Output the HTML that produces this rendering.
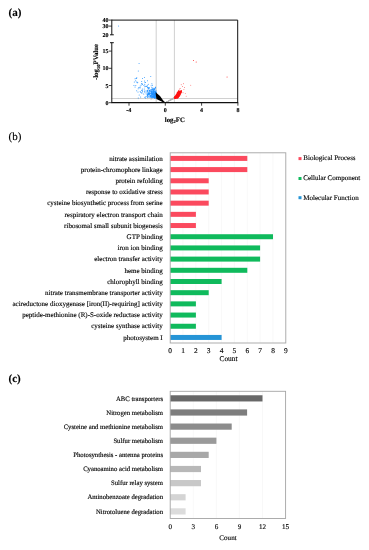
<!DOCTYPE html>
<html><head><meta charset="utf-8"><title>Figure</title>
<style>html,body{margin:0;padding:0;background:#fff}svg{display:block}text{font-family:"Liberation Serif","Times New Roman",serif;fill:#000;text-rendering:geometricPrecision;stroke:#000;stroke-width:0.13px}</style></head><body>
<svg width="369" height="550" viewBox="0 0 369 550">
<rect width="369" height="550" fill="#fff"/>
<text x="8.5" y="15.6" font-size="11" font-weight="bold">(a)</text>
<text x="8.5" y="139.6" font-size="11">(b)</text>
<text x="8.5" y="381.9" font-size="11" font-weight="bold">(c)</text>
<g id="volcano">
<g stroke="#b0b0b0" stroke-width="0.6">
<line x1="156.2" y1="20.1" x2="156.2" y2="102.7"/>
<line x1="174.4" y1="20.1" x2="174.4" y2="102.7"/>
<line x1="111.8" y1="98.5" x2="237.7" y2="98.5"/>
</g>
<circle cx="168.55" cy="101.12" r="0.42" fill="#b8b8b8" fill-opacity="0.9"/>
<circle cx="171.37" cy="99.81" r="0.42" fill="#b8b8b8" fill-opacity="0.9"/>
<circle cx="170.38" cy="100.10" r="0.42" fill="#b8b8b8" fill-opacity="0.9"/>
<circle cx="166.25" cy="102.19" r="0.42" fill="#b8b8b8" fill-opacity="0.9"/>
<circle cx="166.08" cy="102.29" r="0.42" fill="#b8b8b8" fill-opacity="0.9"/>
<circle cx="166.36" cy="102.19" r="0.42" fill="#b8b8b8" fill-opacity="0.9"/>
<circle cx="169.42" cy="100.35" r="0.42" fill="#b8b8b8" fill-opacity="0.9"/>
<circle cx="166.82" cy="101.95" r="0.42" fill="#b8b8b8" fill-opacity="0.9"/>
<circle cx="171.17" cy="99.26" r="0.42" fill="#b8b8b8" fill-opacity="0.9"/>
<circle cx="170.73" cy="99.89" r="0.42" fill="#b8b8b8" fill-opacity="0.9"/>
<circle cx="174.18" cy="98.50" r="0.42" fill="#b8b8b8" fill-opacity="0.9"/>
<circle cx="173.16" cy="98.74" r="0.42" fill="#b8b8b8" fill-opacity="0.9"/>
<circle cx="167.00" cy="101.88" r="0.42" fill="#b8b8b8" fill-opacity="0.9"/>
<circle cx="168.41" cy="100.92" r="0.42" fill="#b8b8b8" fill-opacity="0.9"/>
<circle cx="167.31" cy="101.61" r="0.42" fill="#b8b8b8" fill-opacity="0.9"/>
<circle cx="171.27" cy="99.63" r="0.42" fill="#b8b8b8" fill-opacity="0.9"/>
<circle cx="170.48" cy="100.24" r="0.42" fill="#b8b8b8" fill-opacity="0.9"/>
<circle cx="166.27" cy="102.22" r="0.42" fill="#b8b8b8" fill-opacity="0.9"/>
<circle cx="171.62" cy="99.41" r="0.42" fill="#b8b8b8" fill-opacity="0.9"/>
<circle cx="168.46" cy="100.99" r="0.42" fill="#b8b8b8" fill-opacity="0.9"/>
<circle cx="169.66" cy="100.50" r="0.42" fill="#b8b8b8" fill-opacity="0.9"/>
<circle cx="172.61" cy="98.64" r="0.42" fill="#b8b8b8" fill-opacity="0.9"/>
<circle cx="167.86" cy="101.32" r="0.42" fill="#b8b8b8" fill-opacity="0.9"/>
<circle cx="170.28" cy="99.82" r="0.42" fill="#b8b8b8" fill-opacity="0.9"/>
<circle cx="172.05" cy="99.30" r="0.42" fill="#b8b8b8" fill-opacity="0.9"/>
<circle cx="174.21" cy="98.41" r="0.42" fill="#b8b8b8" fill-opacity="0.9"/>
<circle cx="169.36" cy="100.42" r="0.42" fill="#b8b8b8" fill-opacity="0.9"/>
<circle cx="167.07" cy="101.77" r="0.42" fill="#b8b8b8" fill-opacity="0.9"/>
<circle cx="166.09" cy="102.26" r="0.42" fill="#b8b8b8" fill-opacity="0.9"/>
<circle cx="172.35" cy="98.90" r="0.42" fill="#b8b8b8" fill-opacity="0.9"/>
<circle cx="173.31" cy="98.64" r="0.42" fill="#b8b8b8" fill-opacity="0.9"/>
<circle cx="171.75" cy="99.20" r="0.42" fill="#b8b8b8" fill-opacity="0.9"/>
<circle cx="170.76" cy="99.84" r="0.42" fill="#b8b8b8" fill-opacity="0.9"/>
<circle cx="173.00" cy="98.19" r="0.42" fill="#b8b8b8" fill-opacity="0.9"/>
<circle cx="169.84" cy="100.20" r="0.42" fill="#b8b8b8" fill-opacity="0.9"/>
<circle cx="166.28" cy="102.16" r="0.42" fill="#b8b8b8" fill-opacity="0.9"/>
<circle cx="171.34" cy="99.12" r="0.42" fill="#b8b8b8" fill-opacity="0.9"/>
<circle cx="172.84" cy="98.91" r="0.42" fill="#b8b8b8" fill-opacity="0.9"/>
<circle cx="169.08" cy="100.61" r="0.42" fill="#b8b8b8" fill-opacity="0.9"/>
<circle cx="165.95" cy="102.36" r="0.42" fill="#b8b8b8" fill-opacity="0.9"/>
<circle cx="167.20" cy="101.78" r="0.42" fill="#b8b8b8" fill-opacity="0.9"/>
<circle cx="166.26" cy="102.16" r="0.42" fill="#b8b8b8" fill-opacity="0.9"/>
<circle cx="166.87" cy="101.92" r="0.42" fill="#b8b8b8" fill-opacity="0.9"/>
<circle cx="169.13" cy="100.49" r="0.42" fill="#b8b8b8" fill-opacity="0.9"/>
<circle cx="166.45" cy="102.10" r="0.42" fill="#b8b8b8" fill-opacity="0.9"/>
<circle cx="170.49" cy="99.70" r="0.42" fill="#b8b8b8" fill-opacity="0.9"/>
<circle cx="172.82" cy="98.37" r="0.42" fill="#b8b8b8" fill-opacity="0.9"/>
<circle cx="168.16" cy="101.22" r="0.42" fill="#b8b8b8" fill-opacity="0.9"/>
<circle cx="168.85" cy="100.65" r="0.42" fill="#b8b8b8" fill-opacity="0.9"/>
<circle cx="174.02" cy="98.46" r="0.42" fill="#b8b8b8" fill-opacity="0.9"/>
<circle cx="167.27" cy="101.72" r="0.42" fill="#b8b8b8" fill-opacity="0.9"/>
<circle cx="167.77" cy="101.40" r="0.42" fill="#b8b8b8" fill-opacity="0.9"/>
<circle cx="170.84" cy="99.93" r="0.42" fill="#b8b8b8" fill-opacity="0.9"/>
<circle cx="165.79" cy="102.45" r="0.42" fill="#b8b8b8" fill-opacity="0.9"/>
<circle cx="168.94" cy="100.74" r="0.42" fill="#b8b8b8" fill-opacity="0.9"/>
<circle cx="173.98" cy="97.89" r="0.42" fill="#b8b8b8" fill-opacity="0.9"/>
<circle cx="170.20" cy="100.03" r="0.42" fill="#b8b8b8" fill-opacity="0.9"/>
<circle cx="171.59" cy="99.72" r="0.42" fill="#b8b8b8" fill-opacity="0.9"/>
<circle cx="173.51" cy="98.06" r="0.42" fill="#b8b8b8" fill-opacity="0.9"/>
<circle cx="173.30" cy="98.16" r="0.42" fill="#b8b8b8" fill-opacity="0.9"/>
<circle cx="169.14" cy="100.71" r="0.42" fill="#b8b8b8" fill-opacity="0.9"/>
<circle cx="166.65" cy="101.96" r="0.42" fill="#b8b8b8" fill-opacity="0.9"/>
<circle cx="166.29" cy="102.23" r="0.42" fill="#b8b8b8" fill-opacity="0.9"/>
<circle cx="167.55" cy="101.60" r="0.42" fill="#b8b8b8" fill-opacity="0.9"/>
<circle cx="168.69" cy="101.10" r="0.42" fill="#b8b8b8" fill-opacity="0.9"/>
<circle cx="165.76" cy="102.48" r="0.42" fill="#b8b8b8" fill-opacity="0.9"/>
<circle cx="166.63" cy="102.02" r="0.42" fill="#b8b8b8" fill-opacity="0.9"/>
<circle cx="165.97" cy="102.31" r="0.42" fill="#b8b8b8" fill-opacity="0.9"/>
<circle cx="171.05" cy="99.91" r="0.42" fill="#b8b8b8" fill-opacity="0.9"/>
<circle cx="167.93" cy="101.36" r="0.42" fill="#b8b8b8" fill-opacity="0.9"/>
<circle cx="168.90" cy="100.97" r="0.42" fill="#b8b8b8" fill-opacity="0.9"/>
<circle cx="173.08" cy="98.09" r="0.42" fill="#b8b8b8" fill-opacity="0.9"/>
<circle cx="169.77" cy="100.34" r="0.42" fill="#b8b8b8" fill-opacity="0.9"/>
<circle cx="166.49" cy="102.13" r="0.42" fill="#b8b8b8" fill-opacity="0.9"/>
<circle cx="168.71" cy="100.99" r="0.42" fill="#b8b8b8" fill-opacity="0.9"/>
<circle cx="172.90" cy="98.99" r="0.42" fill="#b8b8b8" fill-opacity="0.9"/>
<circle cx="165.95" cy="102.32" r="0.42" fill="#b8b8b8" fill-opacity="0.9"/>
<circle cx="170.31" cy="100.27" r="0.42" fill="#b8b8b8" fill-opacity="0.9"/>
<circle cx="170.44" cy="100.28" r="0.42" fill="#b8b8b8" fill-opacity="0.9"/>
<circle cx="170.31" cy="99.74" r="0.42" fill="#b8b8b8" fill-opacity="0.9"/>
<circle cx="173.20" cy="98.32" r="0.42" fill="#b8b8b8" fill-opacity="0.9"/>
<circle cx="168.01" cy="101.31" r="0.42" fill="#b8b8b8" fill-opacity="0.9"/>
<circle cx="167.19" cy="101.63" r="0.42" fill="#b8b8b8" fill-opacity="0.9"/>
<circle cx="170.35" cy="99.85" r="0.42" fill="#b8b8b8" fill-opacity="0.9"/>
<circle cx="168.60" cy="101.07" r="0.42" fill="#b8b8b8" fill-opacity="0.9"/>
<circle cx="172.75" cy="98.29" r="0.42" fill="#b8b8b8" fill-opacity="0.9"/>
<circle cx="173.11" cy="98.26" r="0.42" fill="#b8b8b8" fill-opacity="0.9"/>
<circle cx="172.81" cy="98.49" r="0.42" fill="#b8b8b8" fill-opacity="0.9"/>
<circle cx="167.71" cy="101.42" r="0.42" fill="#b8b8b8" fill-opacity="0.9"/>
<circle cx="168.82" cy="101.04" r="0.42" fill="#b8b8b8" fill-opacity="0.9"/>
<circle cx="165.99" cy="102.35" r="0.42" fill="#b8b8b8" fill-opacity="0.9"/>
<circle cx="167.99" cy="101.21" r="0.42" fill="#b8b8b8" fill-opacity="0.9"/>
<circle cx="174.00" cy="98.14" r="0.42" fill="#b8b8b8" fill-opacity="0.9"/>
<circle cx="173.84" cy="97.65" r="0.42" fill="#b8b8b8" fill-opacity="0.9"/>
<circle cx="173.99" cy="98.24" r="0.42" fill="#b8b8b8" fill-opacity="0.9"/>
<circle cx="167.66" cy="101.53" r="0.42" fill="#b8b8b8" fill-opacity="0.9"/>
<circle cx="167.45" cy="101.64" r="0.42" fill="#b8b8b8" fill-opacity="0.9"/>
<circle cx="171.14" cy="99.31" r="0.42" fill="#b8b8b8" fill-opacity="0.9"/>
<circle cx="173.00" cy="98.64" r="0.42" fill="#b8b8b8" fill-opacity="0.9"/>
<circle cx="171.39" cy="99.24" r="0.42" fill="#b8b8b8" fill-opacity="0.9"/>
<circle cx="166.49" cy="102.05" r="0.42" fill="#b8b8b8" fill-opacity="0.9"/>
<circle cx="173.60" cy="98.00" r="0.42" fill="#b8b8b8" fill-opacity="0.9"/>
<circle cx="172.22" cy="99.05" r="0.42" fill="#b8b8b8" fill-opacity="0.9"/>
<circle cx="167.29" cy="101.57" r="0.42" fill="#b8b8b8" fill-opacity="0.9"/>
<circle cx="168.62" cy="100.81" r="0.42" fill="#b8b8b8" fill-opacity="0.9"/>
<circle cx="174.14" cy="98.13" r="0.42" fill="#b8b8b8" fill-opacity="0.9"/>
<circle cx="169.22" cy="100.40" r="0.42" fill="#b8b8b8" fill-opacity="0.9"/>
<circle cx="172.01" cy="99.42" r="0.42" fill="#b8b8b8" fill-opacity="0.9"/>
<circle cx="166.85" cy="101.95" r="0.42" fill="#b8b8b8" fill-opacity="0.9"/>
<circle cx="173.56" cy="98.00" r="0.42" fill="#b8b8b8" fill-opacity="0.9"/>
<circle cx="167.01" cy="101.72" r="0.42" fill="#b8b8b8" fill-opacity="0.9"/>
<circle cx="174.21" cy="97.80" r="0.42" fill="#b8b8b8" fill-opacity="0.9"/>
<circle cx="168.78" cy="100.84" r="0.42" fill="#b8b8b8" fill-opacity="0.9"/>
<circle cx="166.88" cy="101.96" r="0.42" fill="#b8b8b8" fill-opacity="0.9"/>
<circle cx="174.13" cy="97.85" r="0.42" fill="#b8b8b8" fill-opacity="0.9"/>
<circle cx="170.30" cy="99.78" r="0.42" fill="#b8b8b8" fill-opacity="0.9"/>
<circle cx="169.50" cy="100.28" r="0.42" fill="#b8b8b8" fill-opacity="0.9"/>
<circle cx="172.88" cy="98.96" r="0.42" fill="#b8b8b8" fill-opacity="0.9"/>
<circle cx="167.93" cy="101.38" r="0.42" fill="#b8b8b8" fill-opacity="0.9"/>
<circle cx="167.83" cy="101.33" r="0.42" fill="#b8b8b8" fill-opacity="0.9"/>
<circle cx="167.99" cy="101.30" r="0.42" fill="#b8b8b8" fill-opacity="0.9"/>
<circle cx="166.88" cy="101.78" r="0.42" fill="#b8b8b8" fill-opacity="0.9"/>
<circle cx="168.81" cy="100.86" r="0.42" fill="#b8b8b8" fill-opacity="0.9"/>
<circle cx="170.79" cy="99.51" r="0.42" fill="#b8b8b8" fill-opacity="0.9"/>
<circle cx="169.38" cy="100.32" r="0.42" fill="#b8b8b8" fill-opacity="0.9"/>
<circle cx="170.08" cy="100.15" r="0.42" fill="#b8b8b8" fill-opacity="0.9"/>
<circle cx="170.27" cy="100.37" r="0.42" fill="#b8b8b8" fill-opacity="0.9"/>
<circle cx="169.55" cy="100.62" r="0.42" fill="#b8b8b8" fill-opacity="0.9"/>
<circle cx="165.79" cy="102.42" r="0.42" fill="#b8b8b8" fill-opacity="0.9"/>
<circle cx="167.24" cy="101.68" r="0.42" fill="#b8b8b8" fill-opacity="0.9"/>
<circle cx="172.01" cy="99.10" r="0.42" fill="#b8b8b8" fill-opacity="0.9"/>
<circle cx="168.57" cy="100.96" r="0.42" fill="#b8b8b8" fill-opacity="0.9"/>
<circle cx="170.55" cy="99.73" r="0.42" fill="#b8b8b8" fill-opacity="0.9"/>
<circle cx="166.67" cy="101.96" r="0.42" fill="#b8b8b8" fill-opacity="0.9"/>
<circle cx="167.90" cy="101.40" r="0.42" fill="#b8b8b8" fill-opacity="0.9"/>
<circle cx="172.42" cy="98.92" r="0.42" fill="#b8b8b8" fill-opacity="0.9"/>
<circle cx="170.60" cy="99.72" r="0.42" fill="#b8b8b8" fill-opacity="0.9"/>
<circle cx="173.63" cy="98.35" r="0.42" fill="#b8b8b8" fill-opacity="0.9"/>
<circle cx="171.04" cy="99.65" r="0.42" fill="#b8b8b8" fill-opacity="0.9"/>
<circle cx="170.17" cy="100.00" r="0.42" fill="#b8b8b8" fill-opacity="0.9"/>
<circle cx="169.66" cy="100.37" r="0.42" fill="#b8b8b8" fill-opacity="0.9"/>
<circle cx="169.88" cy="100.02" r="0.42" fill="#b8b8b8" fill-opacity="0.9"/>
<circle cx="171.79" cy="98.95" r="0.42" fill="#b8b8b8" fill-opacity="0.9"/>
<circle cx="173.88" cy="98.41" r="0.42" fill="#b8b8b8" fill-opacity="0.9"/>
<circle cx="170.58" cy="99.61" r="0.42" fill="#b8b8b8" fill-opacity="0.9"/>
<circle cx="173.00" cy="98.97" r="0.42" fill="#b8b8b8" fill-opacity="0.9"/>
<circle cx="166.80" cy="101.91" r="0.42" fill="#b8b8b8" fill-opacity="0.9"/>
<circle cx="166.38" cy="102.16" r="0.42" fill="#b8b8b8" fill-opacity="0.9"/>
<circle cx="166.38" cy="102.10" r="0.42" fill="#b8b8b8" fill-opacity="0.9"/>
<circle cx="172.52" cy="98.51" r="0.42" fill="#b8b8b8" fill-opacity="0.9"/>
<circle cx="167.09" cy="101.70" r="0.42" fill="#b8b8b8" fill-opacity="0.9"/>
<circle cx="171.45" cy="99.72" r="0.42" fill="#b8b8b8" fill-opacity="0.9"/>
<circle cx="173.37" cy="97.95" r="0.42" fill="#b8b8b8" fill-opacity="0.9"/>
<circle cx="167.65" cy="101.32" r="0.42" fill="#b8b8b8" fill-opacity="0.9"/>
<circle cx="169.19" cy="100.64" r="0.42" fill="#b8b8b8" fill-opacity="0.9"/>
<circle cx="174.29" cy="97.56" r="0.42" fill="#b8b8b8" fill-opacity="0.9"/>
<circle cx="167.15" cy="101.74" r="0.42" fill="#b8b8b8" fill-opacity="0.9"/>
<circle cx="170.20" cy="100.20" r="0.42" fill="#b8b8b8" fill-opacity="0.9"/>
<circle cx="167.44" cy="101.61" r="0.42" fill="#b8b8b8" fill-opacity="0.9"/>
<circle cx="171.98" cy="99.56" r="0.42" fill="#b8b8b8" fill-opacity="0.9"/>
<circle cx="163.42" cy="101.64" r="0.42" fill="#9a9a9a" fill-opacity="0.9"/>
<circle cx="164.98" cy="102.52" r="0.42" fill="#9a9a9a" fill-opacity="0.9"/>
<circle cx="163.21" cy="101.49" r="0.42" fill="#9a9a9a" fill-opacity="0.9"/>
<circle cx="164.84" cy="102.40" r="0.42" fill="#9a9a9a" fill-opacity="0.9"/>
<circle cx="162.74" cy="101.00" r="0.42" fill="#9a9a9a" fill-opacity="0.9"/>
<circle cx="164.72" cy="102.39" r="0.42" fill="#9a9a9a" fill-opacity="0.9"/>
<circle cx="164.91" cy="102.46" r="0.42" fill="#9a9a9a" fill-opacity="0.9"/>
<circle cx="164.24" cy="102.16" r="0.42" fill="#9a9a9a" fill-opacity="0.9"/>
<circle cx="163.80" cy="101.72" r="0.42" fill="#9a9a9a" fill-opacity="0.9"/>
<circle cx="162.65" cy="101.29" r="0.42" fill="#9a9a9a" fill-opacity="0.9"/>
<circle cx="164.59" cy="102.24" r="0.42" fill="#9a9a9a" fill-opacity="0.9"/>
<circle cx="163.37" cy="101.52" r="0.42" fill="#9a9a9a" fill-opacity="0.9"/>
<circle cx="164.77" cy="102.44" r="0.42" fill="#9a9a9a" fill-opacity="0.9"/>
<circle cx="163.03" cy="101.42" r="0.42" fill="#9a9a9a" fill-opacity="0.9"/>
<circle cx="164.82" cy="102.38" r="0.42" fill="#9a9a9a" fill-opacity="0.9"/>
<circle cx="163.18" cy="101.37" r="0.42" fill="#9a9a9a" fill-opacity="0.9"/>
<circle cx="164.78" cy="102.37" r="0.42" fill="#9a9a9a" fill-opacity="0.9"/>
<circle cx="164.83" cy="102.40" r="0.42" fill="#9a9a9a" fill-opacity="0.9"/>
<circle cx="163.71" cy="101.83" r="0.42" fill="#9a9a9a" fill-opacity="0.9"/>
<circle cx="163.42" cy="101.47" r="0.42" fill="#9a9a9a" fill-opacity="0.9"/>
<circle cx="164.25" cy="102.17" r="0.42" fill="#9a9a9a" fill-opacity="0.9"/>
<circle cx="163.50" cy="101.75" r="0.42" fill="#9a9a9a" fill-opacity="0.9"/>
<circle cx="164.71" cy="102.40" r="0.42" fill="#9a9a9a" fill-opacity="0.9"/>
<circle cx="164.88" cy="102.48" r="0.42" fill="#9a9a9a" fill-opacity="0.9"/>
<circle cx="164.12" cy="102.06" r="0.42" fill="#9a9a9a" fill-opacity="0.9"/>
<circle cx="162.82" cy="101.37" r="0.42" fill="#9a9a9a" fill-opacity="0.9"/>
<circle cx="163.57" cy="101.81" r="0.42" fill="#9a9a9a" fill-opacity="0.9"/>
<circle cx="164.02" cy="102.07" r="0.42" fill="#9a9a9a" fill-opacity="0.9"/>
<circle cx="164.30" cy="102.21" r="0.42" fill="#9a9a9a" fill-opacity="0.9"/>
<circle cx="162.90" cy="101.29" r="0.42" fill="#9a9a9a" fill-opacity="0.9"/>
<circle cx="164.48" cy="102.23" r="0.42" fill="#9a9a9a" fill-opacity="0.9"/>
<circle cx="162.31" cy="101.19" r="0.42" fill="#9a9a9a" fill-opacity="0.9"/>
<circle cx="162.65" cy="101.21" r="0.42" fill="#9a9a9a" fill-opacity="0.9"/>
<circle cx="163.59" cy="101.61" r="0.42" fill="#9a9a9a" fill-opacity="0.9"/>
<circle cx="163.89" cy="101.88" r="0.42" fill="#9a9a9a" fill-opacity="0.9"/>
<circle cx="163.03" cy="101.19" r="0.42" fill="#9a9a9a" fill-opacity="0.9"/>
<circle cx="164.03" cy="101.89" r="0.42" fill="#9a9a9a" fill-opacity="0.9"/>
<circle cx="162.97" cy="101.30" r="0.42" fill="#9a9a9a" fill-opacity="0.9"/>
<circle cx="163.85" cy="101.91" r="0.42" fill="#9a9a9a" fill-opacity="0.9"/>
<circle cx="164.87" cy="102.48" r="0.42" fill="#9a9a9a" fill-opacity="0.9"/>
<circle cx="154.94" cy="98.58" r="0.4" fill="#c9c2b4" fill-opacity="0.8"/>
<circle cx="151.58" cy="99.38" r="0.4" fill="#c9c2b4" fill-opacity="0.8"/>
<circle cx="154.69" cy="98.45" r="0.4" fill="#c9c2b4" fill-opacity="0.8"/>
<circle cx="140.41" cy="98.68" r="0.4" fill="#c9c2b4" fill-opacity="0.8"/>
<circle cx="151.10" cy="99.27" r="0.4" fill="#c9c2b4" fill-opacity="0.8"/>
<circle cx="150.90" cy="98.97" r="0.4" fill="#c9c2b4" fill-opacity="0.8"/>
<circle cx="153.36" cy="98.99" r="0.4" fill="#c9c2b4" fill-opacity="0.8"/>
<circle cx="151.44" cy="98.28" r="0.4" fill="#c9c2b4" fill-opacity="0.8"/>
<circle cx="138.56" cy="98.85" r="0.4" fill="#c9c2b4" fill-opacity="0.8"/>
<circle cx="151.78" cy="98.28" r="0.4" fill="#c9c2b4" fill-opacity="0.8"/>
<circle cx="150.60" cy="99.11" r="0.4" fill="#c9c2b4" fill-opacity="0.8"/>
<circle cx="156.20" cy="99.08" r="0.4" fill="#c9c2b4" fill-opacity="0.8"/>
<circle cx="147.60" cy="98.91" r="0.4" fill="#c9c2b4" fill-opacity="0.8"/>
<circle cx="152.57" cy="98.91" r="0.4" fill="#c9c2b4" fill-opacity="0.8"/>
<circle cx="156.19" cy="95.24" r="0.5" fill="#1e8fff" fill-opacity="0.95"/>
<circle cx="152.98" cy="92.09" r="0.5" fill="#1e8fff" fill-opacity="0.95"/>
<circle cx="155.95" cy="92.36" r="0.5" fill="#1e8fff" fill-opacity="0.95"/>
<circle cx="154.54" cy="93.98" r="0.5" fill="#1e8fff" fill-opacity="0.95"/>
<circle cx="150.62" cy="96.78" r="0.5" fill="#1e8fff" fill-opacity="0.95"/>
<circle cx="149.41" cy="93.54" r="0.5" fill="#1e8fff" fill-opacity="0.95"/>
<circle cx="148.22" cy="88.22" r="0.5" fill="#1e8fff" fill-opacity="0.95"/>
<circle cx="153.71" cy="96.51" r="0.5" fill="#1e8fff" fill-opacity="0.95"/>
<circle cx="155.19" cy="95.45" r="0.5" fill="#1e8fff" fill-opacity="0.95"/>
<circle cx="155.94" cy="96.98" r="0.5" fill="#1e8fff" fill-opacity="0.95"/>
<circle cx="144.76" cy="84.14" r="0.5" fill="#1e8fff" fill-opacity="0.95"/>
<circle cx="147.81" cy="95.74" r="0.5" fill="#1e8fff" fill-opacity="0.95"/>
<circle cx="145.59" cy="86.36" r="0.5" fill="#1e8fff" fill-opacity="0.95"/>
<circle cx="151.76" cy="89.42" r="0.5" fill="#1e8fff" fill-opacity="0.95"/>
<circle cx="144.77" cy="86.69" r="0.5" fill="#1e8fff" fill-opacity="0.95"/>
<circle cx="150.64" cy="96.25" r="0.5" fill="#1e8fff" fill-opacity="0.95"/>
<circle cx="142.02" cy="92.76" r="0.5" fill="#1e8fff" fill-opacity="0.95"/>
<circle cx="154.56" cy="97.22" r="0.5" fill="#1e8fff" fill-opacity="0.95"/>
<circle cx="156.02" cy="93.05" r="0.5" fill="#1e8fff" fill-opacity="0.95"/>
<circle cx="155.52" cy="92.55" r="0.5" fill="#1e8fff" fill-opacity="0.95"/>
<circle cx="144.74" cy="97.33" r="0.5" fill="#1e8fff" fill-opacity="0.95"/>
<circle cx="149.97" cy="94.63" r="0.5" fill="#1e8fff" fill-opacity="0.95"/>
<circle cx="148.96" cy="92.35" r="0.5" fill="#1e8fff" fill-opacity="0.95"/>
<circle cx="146.06" cy="90.68" r="0.5" fill="#1e8fff" fill-opacity="0.95"/>
<circle cx="147.45" cy="97.40" r="0.5" fill="#1e8fff" fill-opacity="0.95"/>
<circle cx="149.38" cy="92.25" r="0.5" fill="#1e8fff" fill-opacity="0.95"/>
<circle cx="155.79" cy="95.14" r="0.5" fill="#1e8fff" fill-opacity="0.95"/>
<circle cx="155.73" cy="97.35" r="0.5" fill="#1e8fff" fill-opacity="0.95"/>
<circle cx="154.26" cy="94.58" r="0.5" fill="#1e8fff" fill-opacity="0.95"/>
<circle cx="147.66" cy="94.68" r="0.5" fill="#1e8fff" fill-opacity="0.95"/>
<circle cx="151.89" cy="96.62" r="0.5" fill="#1e8fff" fill-opacity="0.95"/>
<circle cx="148.90" cy="88.39" r="0.5" fill="#1e8fff" fill-opacity="0.95"/>
<circle cx="146.96" cy="96.45" r="0.5" fill="#1e8fff" fill-opacity="0.95"/>
<circle cx="155.71" cy="97.99" r="0.5" fill="#1e8fff" fill-opacity="0.95"/>
<circle cx="155.21" cy="94.83" r="0.5" fill="#1e8fff" fill-opacity="0.95"/>
<circle cx="153.91" cy="88.23" r="0.5" fill="#1e8fff" fill-opacity="0.95"/>
<circle cx="150.89" cy="91.33" r="0.5" fill="#1e8fff" fill-opacity="0.95"/>
<circle cx="154.23" cy="94.17" r="0.5" fill="#1e8fff" fill-opacity="0.95"/>
<circle cx="149.13" cy="94.48" r="0.5" fill="#1e8fff" fill-opacity="0.95"/>
<circle cx="154.04" cy="97.29" r="0.5" fill="#1e8fff" fill-opacity="0.95"/>
<circle cx="151.60" cy="97.56" r="0.5" fill="#1e8fff" fill-opacity="0.95"/>
<circle cx="155.42" cy="93.98" r="0.5" fill="#1e8fff" fill-opacity="0.95"/>
<circle cx="141.98" cy="83.67" r="0.5" fill="#1e8fff" fill-opacity="0.95"/>
<circle cx="156.11" cy="95.79" r="0.5" fill="#1e8fff" fill-opacity="0.95"/>
<circle cx="134.32" cy="81.98" r="0.5" fill="#1e8fff" fill-opacity="0.95"/>
<circle cx="152.43" cy="93.79" r="0.5" fill="#1e8fff" fill-opacity="0.95"/>
<circle cx="137.72" cy="82.33" r="0.5" fill="#1e8fff" fill-opacity="0.95"/>
<circle cx="154.72" cy="96.12" r="0.5" fill="#1e8fff" fill-opacity="0.95"/>
<circle cx="151.50" cy="94.18" r="0.5" fill="#1e8fff" fill-opacity="0.95"/>
<circle cx="136.82" cy="77.79" r="0.5" fill="#1e8fff" fill-opacity="0.95"/>
<circle cx="151.70" cy="87.63" r="0.5" fill="#1e8fff" fill-opacity="0.95"/>
<circle cx="142.37" cy="90.35" r="0.5" fill="#1e8fff" fill-opacity="0.95"/>
<circle cx="141.73" cy="93.07" r="0.5" fill="#1e8fff" fill-opacity="0.95"/>
<circle cx="151.99" cy="92.95" r="0.5" fill="#1e8fff" fill-opacity="0.95"/>
<circle cx="151.92" cy="93.21" r="0.5" fill="#1e8fff" fill-opacity="0.95"/>
<circle cx="152.41" cy="94.16" r="0.5" fill="#1e8fff" fill-opacity="0.95"/>
<circle cx="153.54" cy="92.06" r="0.5" fill="#1e8fff" fill-opacity="0.95"/>
<circle cx="153.81" cy="93.97" r="0.5" fill="#1e8fff" fill-opacity="0.95"/>
<circle cx="147.39" cy="91.53" r="0.5" fill="#1e8fff" fill-opacity="0.95"/>
<circle cx="144.61" cy="80.89" r="0.5" fill="#1e8fff" fill-opacity="0.95"/>
<circle cx="148.29" cy="84.25" r="0.5" fill="#1e8fff" fill-opacity="0.95"/>
<circle cx="141.48" cy="90.19" r="0.5" fill="#1e8fff" fill-opacity="0.95"/>
<circle cx="153.05" cy="90.24" r="0.5" fill="#1e8fff" fill-opacity="0.95"/>
<circle cx="150.57" cy="95.56" r="0.5" fill="#1e8fff" fill-opacity="0.95"/>
<circle cx="154.17" cy="91.38" r="0.5" fill="#1e8fff" fill-opacity="0.95"/>
<circle cx="155.91" cy="90.18" r="0.5" fill="#1e8fff" fill-opacity="0.95"/>
<circle cx="154.08" cy="90.19" r="0.5" fill="#1e8fff" fill-opacity="0.95"/>
<circle cx="138.79" cy="87.52" r="0.5" fill="#1e8fff" fill-opacity="0.95"/>
<circle cx="151.67" cy="89.97" r="0.5" fill="#1e8fff" fill-opacity="0.95"/>
<circle cx="154.88" cy="96.00" r="0.5" fill="#1e8fff" fill-opacity="0.95"/>
<circle cx="142.51" cy="78.53" r="0.5" fill="#1e8fff" fill-opacity="0.95"/>
<circle cx="145.60" cy="97.96" r="0.5" fill="#1e8fff" fill-opacity="0.95"/>
<circle cx="138.26" cy="98.06" r="0.5" fill="#1e8fff" fill-opacity="0.95"/>
<circle cx="151.16" cy="93.18" r="0.5" fill="#1e8fff" fill-opacity="0.95"/>
<circle cx="147.84" cy="93.00" r="0.5" fill="#1e8fff" fill-opacity="0.95"/>
<circle cx="152.41" cy="93.38" r="0.5" fill="#1e8fff" fill-opacity="0.95"/>
<circle cx="154.08" cy="97.16" r="0.5" fill="#1e8fff" fill-opacity="0.95"/>
<circle cx="155.90" cy="93.51" r="0.5" fill="#1e8fff" fill-opacity="0.95"/>
<circle cx="152.16" cy="94.28" r="0.5" fill="#1e8fff" fill-opacity="0.95"/>
<circle cx="153.54" cy="95.74" r="0.5" fill="#1e8fff" fill-opacity="0.95"/>
<circle cx="154.30" cy="88.82" r="0.5" fill="#1e8fff" fill-opacity="0.95"/>
<circle cx="149.44" cy="93.98" r="0.5" fill="#1e8fff" fill-opacity="0.95"/>
<circle cx="153.03" cy="89.19" r="0.5" fill="#1e8fff" fill-opacity="0.95"/>
<circle cx="155.06" cy="93.42" r="0.5" fill="#1e8fff" fill-opacity="0.95"/>
<circle cx="141.19" cy="84.97" r="0.5" fill="#1e8fff" fill-opacity="0.95"/>
<circle cx="151.85" cy="91.60" r="0.5" fill="#1e8fff" fill-opacity="0.95"/>
<circle cx="152.42" cy="85.17" r="0.5" fill="#1e8fff" fill-opacity="0.95"/>
<circle cx="155.26" cy="94.21" r="0.5" fill="#1e8fff" fill-opacity="0.95"/>
<circle cx="153.56" cy="92.48" r="0.5" fill="#1e8fff" fill-opacity="0.95"/>
<circle cx="155.61" cy="94.70" r="0.5" fill="#1e8fff" fill-opacity="0.95"/>
<circle cx="150.86" cy="89.55" r="0.5" fill="#1e8fff" fill-opacity="0.95"/>
<circle cx="142.35" cy="89.10" r="0.5" fill="#1e8fff" fill-opacity="0.95"/>
<circle cx="152.82" cy="97.58" r="0.5" fill="#1e8fff" fill-opacity="0.95"/>
<circle cx="151.50" cy="95.73" r="0.5" fill="#1e8fff" fill-opacity="0.95"/>
<circle cx="155.81" cy="92.94" r="0.5" fill="#1e8fff" fill-opacity="0.95"/>
<circle cx="154.15" cy="92.44" r="0.5" fill="#1e8fff" fill-opacity="0.95"/>
<circle cx="151.77" cy="93.61" r="0.5" fill="#1e8fff" fill-opacity="0.95"/>
<circle cx="149.91" cy="90.38" r="0.5" fill="#1e8fff" fill-opacity="0.95"/>
<circle cx="154.21" cy="96.12" r="0.5" fill="#1e8fff" fill-opacity="0.95"/>
<circle cx="154.40" cy="97.39" r="0.5" fill="#1e8fff" fill-opacity="0.95"/>
<circle cx="136.66" cy="82.02" r="0.5" fill="#1e8fff" fill-opacity="0.95"/>
<circle cx="144.22" cy="89.08" r="0.5" fill="#1e8fff" fill-opacity="0.95"/>
<circle cx="156.01" cy="95.51" r="0.5" fill="#1e8fff" fill-opacity="0.95"/>
<circle cx="148.36" cy="87.46" r="0.5" fill="#1e8fff" fill-opacity="0.95"/>
<circle cx="150.60" cy="95.63" r="0.5" fill="#1e8fff" fill-opacity="0.95"/>
<circle cx="156.22" cy="95.83" r="0.5" fill="#1e8fff" fill-opacity="0.95"/>
<circle cx="145.12" cy="82.50" r="0.5" fill="#1e8fff" fill-opacity="0.95"/>
<circle cx="143.93" cy="85.56" r="0.5" fill="#1e8fff" fill-opacity="0.95"/>
<circle cx="155.49" cy="95.24" r="0.5" fill="#1e8fff" fill-opacity="0.95"/>
<circle cx="155.15" cy="96.81" r="0.5" fill="#1e8fff" fill-opacity="0.95"/>
<circle cx="138.18" cy="88.73" r="0.5" fill="#1e8fff" fill-opacity="0.95"/>
<circle cx="148.09" cy="96.49" r="0.5" fill="#1e8fff" fill-opacity="0.95"/>
<circle cx="152.33" cy="97.71" r="0.5" fill="#1e8fff" fill-opacity="0.95"/>
<circle cx="151.12" cy="85.87" r="0.5" fill="#1e8fff" fill-opacity="0.95"/>
<circle cx="154.54" cy="92.92" r="0.5" fill="#1e8fff" fill-opacity="0.95"/>
<circle cx="140.17" cy="91.49" r="0.5" fill="#1e8fff" fill-opacity="0.95"/>
<circle cx="155.35" cy="96.96" r="0.5" fill="#1e8fff" fill-opacity="0.95"/>
<circle cx="154.38" cy="97.86" r="0.5" fill="#1e8fff" fill-opacity="0.95"/>
<circle cx="155.46" cy="97.85" r="0.5" fill="#1e8fff" fill-opacity="0.95"/>
<circle cx="155.76" cy="97.35" r="0.5" fill="#1e8fff" fill-opacity="0.95"/>
<circle cx="153.10" cy="94.53" r="0.5" fill="#1e8fff" fill-opacity="0.95"/>
<circle cx="154.61" cy="94.83" r="0.5" fill="#1e8fff" fill-opacity="0.95"/>
<circle cx="153.94" cy="94.45" r="0.5" fill="#1e8fff" fill-opacity="0.95"/>
<circle cx="152.30" cy="87.98" r="0.5" fill="#1e8fff" fill-opacity="0.95"/>
<circle cx="142.54" cy="91.35" r="0.5" fill="#1e8fff" fill-opacity="0.95"/>
<circle cx="152.12" cy="93.06" r="0.5" fill="#1e8fff" fill-opacity="0.95"/>
<circle cx="135.66" cy="80.64" r="0.5" fill="#1e8fff" fill-opacity="0.95"/>
<circle cx="148.47" cy="92.10" r="0.5" fill="#1e8fff" fill-opacity="0.95"/>
<circle cx="151.84" cy="92.43" r="0.5" fill="#1e8fff" fill-opacity="0.95"/>
<circle cx="149.09" cy="95.12" r="0.5" fill="#1e8fff" fill-opacity="0.95"/>
<circle cx="149.22" cy="90.39" r="0.5" fill="#1e8fff" fill-opacity="0.95"/>
<circle cx="139.74" cy="87.70" r="0.5" fill="#1e8fff" fill-opacity="0.95"/>
<circle cx="153.60" cy="93.04" r="0.5" fill="#1e8fff" fill-opacity="0.95"/>
<circle cx="152.75" cy="94.66" r="0.5" fill="#1e8fff" fill-opacity="0.95"/>
<circle cx="146.08" cy="93.87" r="0.5" fill="#1e8fff" fill-opacity="0.95"/>
<circle cx="147.68" cy="94.71" r="0.5" fill="#1e8fff" fill-opacity="0.95"/>
<circle cx="133.96" cy="85.60" r="0.5" fill="#1e8fff" fill-opacity="0.95"/>
<circle cx="153.85" cy="92.99" r="0.5" fill="#1e8fff" fill-opacity="0.95"/>
<circle cx="154.63" cy="96.69" r="0.5" fill="#1e8fff" fill-opacity="0.95"/>
<circle cx="147.14" cy="94.60" r="0.5" fill="#1e8fff" fill-opacity="0.95"/>
<circle cx="151.87" cy="83.76" r="0.5" fill="#1e8fff" fill-opacity="0.95"/>
<circle cx="154.90" cy="93.97" r="0.5" fill="#1e8fff" fill-opacity="0.95"/>
<circle cx="149.26" cy="87.45" r="0.5" fill="#1e8fff" fill-opacity="0.95"/>
<circle cx="137.33" cy="82.64" r="0.5" fill="#1e8fff" fill-opacity="0.95"/>
<circle cx="154.70" cy="91.75" r="0.5" fill="#1e8fff" fill-opacity="0.95"/>
<circle cx="155.25" cy="93.61" r="0.5" fill="#1e8fff" fill-opacity="0.95"/>
<circle cx="153.04" cy="93.32" r="0.5" fill="#1e8fff" fill-opacity="0.95"/>
<circle cx="141.70" cy="81.41" r="0.5" fill="#1e8fff" fill-opacity="0.95"/>
<circle cx="139.17" cy="94.92" r="0.5" fill="#1e8fff" fill-opacity="0.95"/>
<circle cx="153.68" cy="90.68" r="0.5" fill="#1e8fff" fill-opacity="0.95"/>
<circle cx="147.50" cy="80.75" r="0.5" fill="#1e8fff" fill-opacity="0.95"/>
<circle cx="156.01" cy="96.61" r="0.5" fill="#1e8fff" fill-opacity="0.95"/>
<circle cx="153.24" cy="96.95" r="0.5" fill="#1e8fff" fill-opacity="0.95"/>
<circle cx="153.66" cy="93.88" r="0.5" fill="#1e8fff" fill-opacity="0.95"/>
<circle cx="154.13" cy="93.99" r="0.5" fill="#1e8fff" fill-opacity="0.95"/>
<circle cx="153.47" cy="92.12" r="0.5" fill="#1e8fff" fill-opacity="0.95"/>
<circle cx="135.04" cy="86.97" r="0.5" fill="#1e8fff" fill-opacity="0.95"/>
<circle cx="154.74" cy="98.04" r="0.5" fill="#1e8fff" fill-opacity="0.95"/>
<circle cx="145.25" cy="82.52" r="0.5" fill="#1e8fff" fill-opacity="0.95"/>
<circle cx="152.62" cy="89.41" r="0.5" fill="#1e8fff" fill-opacity="0.95"/>
<circle cx="153.26" cy="92.56" r="0.5" fill="#1e8fff" fill-opacity="0.95"/>
<circle cx="140.21" cy="86.01" r="0.5" fill="#1e8fff" fill-opacity="0.95"/>
<circle cx="141.77" cy="83.39" r="0.5" fill="#1e8fff" fill-opacity="0.95"/>
<circle cx="156.02" cy="96.55" r="0.5" fill="#1e8fff" fill-opacity="0.95"/>
<circle cx="146.97" cy="86.22" r="0.5" fill="#1e8fff" fill-opacity="0.95"/>
<circle cx="155.96" cy="93.91" r="0.5" fill="#1e8fff" fill-opacity="0.95"/>
<circle cx="140.16" cy="87.63" r="0.5" fill="#1e8fff" fill-opacity="0.95"/>
<circle cx="154.33" cy="94.44" r="0.5" fill="#1e8fff" fill-opacity="0.95"/>
<circle cx="153.59" cy="94.68" r="0.5" fill="#1e8fff" fill-opacity="0.95"/>
<circle cx="154.20" cy="89.55" r="0.5" fill="#1e8fff" fill-opacity="0.95"/>
<circle cx="154.29" cy="95.56" r="0.5" fill="#1e8fff" fill-opacity="0.95"/>
<circle cx="148.20" cy="93.19" r="0.5" fill="#1e8fff" fill-opacity="0.95"/>
<circle cx="156.20" cy="92.85" r="0.5" fill="#1e8fff" fill-opacity="0.95"/>
<circle cx="147.26" cy="85.14" r="0.5" fill="#1e8fff" fill-opacity="0.95"/>
<circle cx="137.98" cy="92.09" r="0.5" fill="#1e8fff" fill-opacity="0.95"/>
<circle cx="156.06" cy="94.70" r="0.5" fill="#1e8fff" fill-opacity="0.95"/>
<circle cx="136.25" cy="78.24" r="0.5" fill="#1e8fff" fill-opacity="0.95"/>
<circle cx="136.66" cy="90.74" r="0.5" fill="#1e8fff" fill-opacity="0.95"/>
<circle cx="152.65" cy="91.67" r="0.5" fill="#1e8fff" fill-opacity="0.95"/>
<circle cx="151.90" cy="90.96" r="0.5" fill="#1e8fff" fill-opacity="0.95"/>
<circle cx="145.91" cy="92.09" r="0.5" fill="#1e8fff" fill-opacity="0.95"/>
<circle cx="147.69" cy="87.72" r="0.5" fill="#1e8fff" fill-opacity="0.95"/>
<circle cx="150.28" cy="97.22" r="0.5" fill="#1e8fff" fill-opacity="0.95"/>
<circle cx="153.70" cy="95.49" r="0.5" fill="#1e8fff" fill-opacity="0.95"/>
<circle cx="146.53" cy="86.52" r="0.5" fill="#1e8fff" fill-opacity="0.95"/>
<circle cx="155.70" cy="93.16" r="0.5" fill="#1e8fff" fill-opacity="0.95"/>
<circle cx="154.41" cy="88.85" r="0.5" fill="#1e8fff" fill-opacity="0.95"/>
<circle cx="155.79" cy="91.00" r="0.5" fill="#1e8fff" fill-opacity="0.95"/>
<circle cx="153.71" cy="93.07" r="0.5" fill="#1e8fff" fill-opacity="0.95"/>
<circle cx="142.56" cy="84.53" r="0.5" fill="#1e8fff" fill-opacity="0.95"/>
<circle cx="155.66" cy="95.08" r="0.5" fill="#1e8fff" fill-opacity="0.95"/>
<circle cx="155.58" cy="96.52" r="0.5" fill="#1e8fff" fill-opacity="0.95"/>
<circle cx="152.46" cy="93.43" r="0.5" fill="#1e8fff" fill-opacity="0.95"/>
<circle cx="154.52" cy="97.90" r="0.5" fill="#1e8fff" fill-opacity="0.95"/>
<circle cx="149.09" cy="88.85" r="0.5" fill="#1e8fff" fill-opacity="0.95"/>
<circle cx="147.46" cy="87.15" r="0.5" fill="#1e8fff" fill-opacity="0.95"/>
<circle cx="155.40" cy="97.72" r="0.5" fill="#1e8fff" fill-opacity="0.95"/>
<circle cx="144.54" cy="91.99" r="0.5" fill="#1e8fff" fill-opacity="0.95"/>
<circle cx="153.25" cy="89.22" r="0.5" fill="#1e8fff" fill-opacity="0.95"/>
<circle cx="147.71" cy="90.27" r="0.5" fill="#1e8fff" fill-opacity="0.95"/>
<circle cx="154.43" cy="91.87" r="0.5" fill="#1e8fff" fill-opacity="0.95"/>
<circle cx="155.16" cy="91.42" r="0.5" fill="#1e8fff" fill-opacity="0.95"/>
<circle cx="153.71" cy="97.20" r="0.5" fill="#1e8fff" fill-opacity="0.95"/>
<circle cx="153.01" cy="89.26" r="0.5" fill="#1e8fff" fill-opacity="0.95"/>
<circle cx="154.55" cy="94.60" r="0.5" fill="#1e8fff" fill-opacity="0.95"/>
<circle cx="145.72" cy="96.65" r="0.5" fill="#1e8fff" fill-opacity="0.95"/>
<circle cx="155.53" cy="93.46" r="0.5" fill="#1e8fff" fill-opacity="0.95"/>
<circle cx="152.13" cy="90.17" r="0.5" fill="#1e8fff" fill-opacity="0.95"/>
<circle cx="140.60" cy="97.09" r="0.5" fill="#1e8fff" fill-opacity="0.95"/>
<circle cx="155.96" cy="95.45" r="0.5" fill="#1e8fff" fill-opacity="0.95"/>
<circle cx="153.80" cy="91.19" r="0.52" fill="#1e8fff" fill-opacity="1"/>
<circle cx="143.76" cy="93.93" r="0.52" fill="#1e8fff" fill-opacity="1"/>
<circle cx="150.47" cy="96.02" r="0.52" fill="#1e8fff" fill-opacity="1"/>
<circle cx="149.02" cy="97.15" r="0.52" fill="#1e8fff" fill-opacity="1"/>
<circle cx="155.00" cy="93.17" r="0.52" fill="#1e8fff" fill-opacity="1"/>
<circle cx="144.35" cy="90.97" r="0.52" fill="#1e8fff" fill-opacity="1"/>
<circle cx="152.07" cy="96.37" r="0.52" fill="#1e8fff" fill-opacity="1"/>
<circle cx="153.83" cy="95.90" r="0.52" fill="#1e8fff" fill-opacity="1"/>
<circle cx="154.19" cy="93.86" r="0.52" fill="#1e8fff" fill-opacity="1"/>
<circle cx="152.55" cy="96.76" r="0.52" fill="#1e8fff" fill-opacity="1"/>
<circle cx="151.98" cy="94.47" r="0.52" fill="#1e8fff" fill-opacity="1"/>
<circle cx="155.50" cy="97.03" r="0.52" fill="#1e8fff" fill-opacity="1"/>
<circle cx="149.57" cy="93.44" r="0.52" fill="#1e8fff" fill-opacity="1"/>
<circle cx="152.25" cy="92.85" r="0.52" fill="#1e8fff" fill-opacity="1"/>
<circle cx="147.70" cy="95.80" r="0.52" fill="#1e8fff" fill-opacity="1"/>
<circle cx="155.68" cy="91.84" r="0.52" fill="#1e8fff" fill-opacity="1"/>
<circle cx="153.24" cy="96.14" r="0.52" fill="#1e8fff" fill-opacity="1"/>
<circle cx="154.01" cy="92.89" r="0.52" fill="#1e8fff" fill-opacity="1"/>
<circle cx="154.60" cy="95.80" r="0.52" fill="#1e8fff" fill-opacity="1"/>
<circle cx="151.39" cy="95.23" r="0.52" fill="#1e8fff" fill-opacity="1"/>
<circle cx="152.03" cy="91.77" r="0.52" fill="#1e8fff" fill-opacity="1"/>
<circle cx="154.97" cy="97.57" r="0.52" fill="#1e8fff" fill-opacity="1"/>
<circle cx="154.31" cy="94.86" r="0.52" fill="#1e8fff" fill-opacity="1"/>
<circle cx="151.22" cy="91.35" r="0.52" fill="#1e8fff" fill-opacity="1"/>
<circle cx="156.12" cy="92.81" r="0.52" fill="#1e8fff" fill-opacity="1"/>
<circle cx="148.60" cy="94.51" r="0.52" fill="#1e8fff" fill-opacity="1"/>
<circle cx="155.70" cy="91.67" r="0.52" fill="#1e8fff" fill-opacity="1"/>
<circle cx="153.18" cy="93.11" r="0.52" fill="#1e8fff" fill-opacity="1"/>
<circle cx="151.61" cy="91.78" r="0.52" fill="#1e8fff" fill-opacity="1"/>
<circle cx="152.49" cy="94.31" r="0.52" fill="#1e8fff" fill-opacity="1"/>
<circle cx="155.48" cy="96.14" r="0.52" fill="#1e8fff" fill-opacity="1"/>
<circle cx="153.95" cy="93.36" r="0.52" fill="#1e8fff" fill-opacity="1"/>
<circle cx="155.06" cy="97.00" r="0.52" fill="#1e8fff" fill-opacity="1"/>
<circle cx="152.88" cy="96.55" r="0.52" fill="#1e8fff" fill-opacity="1"/>
<circle cx="156.14" cy="95.48" r="0.52" fill="#1e8fff" fill-opacity="1"/>
<circle cx="150.29" cy="93.14" r="0.52" fill="#1e8fff" fill-opacity="1"/>
<circle cx="155.14" cy="94.60" r="0.52" fill="#1e8fff" fill-opacity="1"/>
<circle cx="155.68" cy="92.38" r="0.52" fill="#1e8fff" fill-opacity="1"/>
<circle cx="155.54" cy="88.85" r="0.52" fill="#1e8fff" fill-opacity="1"/>
<circle cx="147.68" cy="90.71" r="0.52" fill="#1e8fff" fill-opacity="1"/>
<circle cx="155.34" cy="87.20" r="0.52" fill="#1e8fff" fill-opacity="1"/>
<circle cx="152.47" cy="95.13" r="0.52" fill="#1e8fff" fill-opacity="1"/>
<circle cx="149.22" cy="96.14" r="0.52" fill="#1e8fff" fill-opacity="1"/>
<circle cx="149.83" cy="91.39" r="0.52" fill="#1e8fff" fill-opacity="1"/>
<circle cx="148.81" cy="94.00" r="0.52" fill="#1e8fff" fill-opacity="1"/>
<circle cx="151.21" cy="90.94" r="0.52" fill="#1e8fff" fill-opacity="1"/>
<circle cx="148.50" cy="93.63" r="0.52" fill="#1e8fff" fill-opacity="1"/>
<circle cx="153.02" cy="97.45" r="0.52" fill="#1e8fff" fill-opacity="1"/>
<circle cx="152.67" cy="95.93" r="0.52" fill="#1e8fff" fill-opacity="1"/>
<circle cx="154.51" cy="94.51" r="0.52" fill="#1e8fff" fill-opacity="1"/>
<circle cx="148.20" cy="93.82" r="0.52" fill="#1e8fff" fill-opacity="1"/>
<circle cx="155.35" cy="95.46" r="0.52" fill="#1e8fff" fill-opacity="1"/>
<circle cx="153.01" cy="88.24" r="0.52" fill="#1e8fff" fill-opacity="1"/>
<circle cx="153.96" cy="91.18" r="0.52" fill="#1e8fff" fill-opacity="1"/>
<circle cx="151.67" cy="96.21" r="0.52" fill="#1e8fff" fill-opacity="1"/>
<circle cx="154.05" cy="95.86" r="0.52" fill="#1e8fff" fill-opacity="1"/>
<circle cx="151.33" cy="97.66" r="0.52" fill="#1e8fff" fill-opacity="1"/>
<circle cx="153.61" cy="96.64" r="0.52" fill="#1e8fff" fill-opacity="1"/>
<circle cx="151.65" cy="95.31" r="0.52" fill="#1e8fff" fill-opacity="1"/>
<circle cx="155.81" cy="97.54" r="0.52" fill="#1e8fff" fill-opacity="1"/>
<circle cx="152.29" cy="94.08" r="0.52" fill="#1e8fff" fill-opacity="1"/>
<circle cx="147.78" cy="93.90" r="0.52" fill="#1e8fff" fill-opacity="1"/>
<circle cx="150.79" cy="92.95" r="0.52" fill="#1e8fff" fill-opacity="1"/>
<circle cx="151.11" cy="93.21" r="0.52" fill="#1e8fff" fill-opacity="1"/>
<circle cx="154.59" cy="95.98" r="0.52" fill="#1e8fff" fill-opacity="1"/>
<circle cx="155.29" cy="96.97" r="0.52" fill="#1e8fff" fill-opacity="1"/>
<circle cx="154.09" cy="89.88" r="0.52" fill="#1e8fff" fill-opacity="1"/>
<circle cx="154.42" cy="89.75" r="0.52" fill="#1e8fff" fill-opacity="1"/>
<circle cx="152.21" cy="93.90" r="0.52" fill="#1e8fff" fill-opacity="1"/>
<circle cx="150.33" cy="90.78" r="0.52" fill="#1e8fff" fill-opacity="1"/>
<circle cx="154.24" cy="94.73" r="0.52" fill="#1e8fff" fill-opacity="1"/>
<circle cx="147.71" cy="90.17" r="0.52" fill="#1e8fff" fill-opacity="1"/>
<circle cx="148.78" cy="89.03" r="0.52" fill="#1e8fff" fill-opacity="1"/>
<circle cx="156.02" cy="93.72" r="0.52" fill="#1e8fff" fill-opacity="1"/>
<circle cx="153.21" cy="90.64" r="0.52" fill="#1e8fff" fill-opacity="1"/>
<circle cx="155.55" cy="87.24" r="0.52" fill="#1e8fff" fill-opacity="1"/>
<circle cx="153.23" cy="91.53" r="0.52" fill="#1e8fff" fill-opacity="1"/>
<circle cx="148.64" cy="93.47" r="0.52" fill="#1e8fff" fill-opacity="1"/>
<circle cx="155.44" cy="97.38" r="0.52" fill="#1e8fff" fill-opacity="1"/>
<circle cx="149.46" cy="90.64" r="0.52" fill="#1e8fff" fill-opacity="1"/>
<circle cx="147.28" cy="95.61" r="0.52" fill="#1e8fff" fill-opacity="1"/>
<circle cx="147.15" cy="92.10" r="0.52" fill="#1e8fff" fill-opacity="1"/>
<circle cx="151.59" cy="92.56" r="0.52" fill="#1e8fff" fill-opacity="1"/>
<circle cx="154.57" cy="94.95" r="0.52" fill="#1e8fff" fill-opacity="1"/>
<circle cx="150.31" cy="95.01" r="0.52" fill="#1e8fff" fill-opacity="1"/>
<circle cx="175.23" cy="96.60" r="0.5" fill="#ff1414" fill-opacity="1"/>
<circle cx="180.16" cy="94.05" r="0.5" fill="#ff1414" fill-opacity="1"/>
<circle cx="177.88" cy="92.68" r="0.5" fill="#ff1414" fill-opacity="1"/>
<circle cx="177.99" cy="93.44" r="0.5" fill="#ff1414" fill-opacity="1"/>
<circle cx="178.39" cy="94.07" r="0.5" fill="#ff1414" fill-opacity="1"/>
<circle cx="177.98" cy="97.45" r="0.5" fill="#ff1414" fill-opacity="1"/>
<circle cx="178.42" cy="96.12" r="0.5" fill="#ff1414" fill-opacity="1"/>
<circle cx="180.69" cy="91.11" r="0.5" fill="#ff1414" fill-opacity="1"/>
<circle cx="178.96" cy="93.34" r="0.5" fill="#ff1414" fill-opacity="1"/>
<circle cx="177.42" cy="92.63" r="0.5" fill="#ff1414" fill-opacity="1"/>
<circle cx="177.25" cy="96.09" r="0.5" fill="#ff1414" fill-opacity="1"/>
<circle cx="178.85" cy="94.61" r="0.5" fill="#ff1414" fill-opacity="1"/>
<circle cx="175.21" cy="98.23" r="0.5" fill="#ff1414" fill-opacity="1"/>
<circle cx="177.56" cy="94.98" r="0.5" fill="#ff1414" fill-opacity="1"/>
<circle cx="175.29" cy="97.27" r="0.5" fill="#ff1414" fill-opacity="1"/>
<circle cx="174.75" cy="98.19" r="0.5" fill="#ff1414" fill-opacity="1"/>
<circle cx="176.18" cy="95.95" r="0.5" fill="#ff1414" fill-opacity="1"/>
<circle cx="177.19" cy="94.16" r="0.5" fill="#ff1414" fill-opacity="1"/>
<circle cx="176.39" cy="94.61" r="0.5" fill="#ff1414" fill-opacity="1"/>
<circle cx="175.43" cy="97.38" r="0.5" fill="#ff1414" fill-opacity="1"/>
<circle cx="179.86" cy="93.55" r="0.5" fill="#ff1414" fill-opacity="1"/>
<circle cx="176.52" cy="96.42" r="0.5" fill="#ff1414" fill-opacity="1"/>
<circle cx="178.77" cy="94.09" r="0.5" fill="#ff1414" fill-opacity="1"/>
<circle cx="178.35" cy="93.27" r="0.5" fill="#ff1414" fill-opacity="1"/>
<circle cx="178.09" cy="92.60" r="0.5" fill="#ff1414" fill-opacity="1"/>
<circle cx="176.13" cy="98.04" r="0.5" fill="#ff1414" fill-opacity="1"/>
<circle cx="175.07" cy="96.47" r="0.5" fill="#ff1414" fill-opacity="1"/>
<circle cx="176.13" cy="97.42" r="0.5" fill="#ff1414" fill-opacity="1"/>
<circle cx="175.23" cy="97.28" r="0.5" fill="#ff1414" fill-opacity="1"/>
<circle cx="178.38" cy="94.53" r="0.5" fill="#ff1414" fill-opacity="1"/>
<circle cx="175.74" cy="97.52" r="0.5" fill="#ff1414" fill-opacity="1"/>
<circle cx="177.44" cy="97.50" r="0.5" fill="#ff1414" fill-opacity="1"/>
<circle cx="177.12" cy="92.83" r="0.5" fill="#ff1414" fill-opacity="1"/>
<circle cx="178.94" cy="92.72" r="0.5" fill="#ff1414" fill-opacity="1"/>
<circle cx="176.61" cy="95.92" r="0.5" fill="#ff1414" fill-opacity="1"/>
<circle cx="174.98" cy="97.12" r="0.5" fill="#ff1414" fill-opacity="1"/>
<circle cx="179.80" cy="92.54" r="0.5" fill="#ff1414" fill-opacity="1"/>
<circle cx="178.04" cy="93.26" r="0.5" fill="#ff1414" fill-opacity="1"/>
<circle cx="178.58" cy="95.46" r="0.5" fill="#ff1414" fill-opacity="1"/>
<circle cx="177.30" cy="96.04" r="0.5" fill="#ff1414" fill-opacity="1"/>
<circle cx="177.98" cy="97.65" r="0.5" fill="#ff1414" fill-opacity="1"/>
<circle cx="175.81" cy="96.38" r="0.5" fill="#ff1414" fill-opacity="1"/>
<circle cx="181.05" cy="91.57" r="0.5" fill="#ff1414" fill-opacity="1"/>
<circle cx="179.17" cy="92.26" r="0.5" fill="#ff1414" fill-opacity="1"/>
<circle cx="180.42" cy="91.39" r="0.5" fill="#ff1414" fill-opacity="1"/>
<circle cx="180.39" cy="93.76" r="0.5" fill="#ff1414" fill-opacity="1"/>
<circle cx="180.29" cy="91.76" r="0.5" fill="#ff1414" fill-opacity="1"/>
<circle cx="178.35" cy="95.39" r="0.5" fill="#ff1414" fill-opacity="1"/>
<circle cx="175.92" cy="96.23" r="0.5" fill="#ff1414" fill-opacity="1"/>
<circle cx="177.60" cy="98.23" r="0.5" fill="#ff1414" fill-opacity="1"/>
<circle cx="174.97" cy="97.39" r="0.5" fill="#ff1414" fill-opacity="1"/>
<circle cx="175.28" cy="98.06" r="0.5" fill="#ff1414" fill-opacity="1"/>
<circle cx="179.21" cy="93.64" r="0.5" fill="#ff1414" fill-opacity="1"/>
<circle cx="176.40" cy="98.00" r="0.5" fill="#ff1414" fill-opacity="1"/>
<circle cx="180.61" cy="91.90" r="0.5" fill="#ff1414" fill-opacity="1"/>
<circle cx="177.41" cy="97.24" r="0.5" fill="#ff1414" fill-opacity="1"/>
<circle cx="178.72" cy="91.74" r="0.5" fill="#ff1414" fill-opacity="1"/>
<circle cx="175.39" cy="97.11" r="0.5" fill="#ff1414" fill-opacity="1"/>
<circle cx="179.67" cy="93.79" r="0.5" fill="#ff1414" fill-opacity="1"/>
<circle cx="175.43" cy="97.09" r="0.5" fill="#ff1414" fill-opacity="1"/>
<circle cx="178.06" cy="93.20" r="0.5" fill="#ff1414" fill-opacity="1"/>
<circle cx="175.74" cy="95.92" r="0.5" fill="#ff1414" fill-opacity="1"/>
<circle cx="177.64" cy="96.75" r="0.5" fill="#ff1414" fill-opacity="1"/>
<circle cx="178.71" cy="96.31" r="0.5" fill="#ff1414" fill-opacity="1"/>
<circle cx="180.07" cy="92.79" r="0.5" fill="#ff1414" fill-opacity="1"/>
<circle cx="177.20" cy="95.29" r="0.5" fill="#ff1414" fill-opacity="1"/>
<circle cx="177.88" cy="96.08" r="0.5" fill="#ff1414" fill-opacity="1"/>
<circle cx="177.91" cy="97.55" r="0.5" fill="#ff1414" fill-opacity="1"/>
<circle cx="178.27" cy="93.11" r="0.5" fill="#ff1414" fill-opacity="1"/>
<circle cx="177.49" cy="96.42" r="0.5" fill="#ff1414" fill-opacity="1"/>
<circle cx="175.90" cy="98.06" r="0.5" fill="#ff1414" fill-opacity="1"/>
<circle cx="178.20" cy="92.63" r="0.5" fill="#ff1414" fill-opacity="1"/>
<circle cx="178.34" cy="96.46" r="0.5" fill="#ff1414" fill-opacity="1"/>
<circle cx="179.36" cy="91.73" r="0.5" fill="#ff1414" fill-opacity="1"/>
<circle cx="178.82" cy="93.97" r="0.5" fill="#ff1414" fill-opacity="1"/>
<circle cx="176.98" cy="93.55" r="0.5" fill="#ff1414" fill-opacity="1"/>
<circle cx="179.86" cy="93.28" r="0.5" fill="#ff1414" fill-opacity="1"/>
<circle cx="176.81" cy="96.22" r="0.5" fill="#ff1414" fill-opacity="1"/>
<circle cx="178.35" cy="91.27" r="0.5" fill="#ff1414" fill-opacity="1"/>
<circle cx="174.90" cy="98.23" r="0.5" fill="#ff1414" fill-opacity="1"/>
<circle cx="179.91" cy="91.88" r="0.5" fill="#ff1414" fill-opacity="1"/>
<circle cx="178.85" cy="91.92" r="0.5" fill="#ff1414" fill-opacity="1"/>
<circle cx="178.91" cy="94.43" r="0.5" fill="#ff1414" fill-opacity="1"/>
<circle cx="178.00" cy="94.11" r="0.5" fill="#ff1414" fill-opacity="1"/>
<circle cx="177.61" cy="97.13" r="0.5" fill="#ff1414" fill-opacity="1"/>
<circle cx="177.85" cy="93.17" r="0.5" fill="#ff1414" fill-opacity="1"/>
<circle cx="179.50" cy="93.33" r="0.5" fill="#ff1414" fill-opacity="1"/>
<circle cx="179.05" cy="95.66" r="0.5" fill="#ff1414" fill-opacity="1"/>
<circle cx="175.78" cy="96.86" r="0.5" fill="#ff1414" fill-opacity="1"/>
<circle cx="178.34" cy="92.69" r="0.5" fill="#ff1414" fill-opacity="1"/>
<circle cx="176.09" cy="96.76" r="0.5" fill="#ff1414" fill-opacity="1"/>
<circle cx="175.76" cy="97.75" r="0.5" fill="#ff1414" fill-opacity="1"/>
<circle cx="181.15" cy="91.60" r="0.5" fill="#ff1414" fill-opacity="1"/>
<circle cx="178.80" cy="91.33" r="0.5" fill="#ff1414" fill-opacity="1"/>
<circle cx="181.44" cy="90.66" r="0.5" fill="#ff1414" fill-opacity="1"/>
<circle cx="176.42" cy="95.31" r="0.5" fill="#ff1414" fill-opacity="1"/>
<circle cx="175.13" cy="97.77" r="0.5" fill="#ff1414" fill-opacity="1"/>
<circle cx="175.62" cy="97.55" r="0.5" fill="#ff1414" fill-opacity="1"/>
<circle cx="178.80" cy="93.30" r="0.5" fill="#ff1414" fill-opacity="1"/>
<circle cx="176.36" cy="95.15" r="0.5" fill="#ff1414" fill-opacity="1"/>
<circle cx="178.26" cy="95.16" r="0.5" fill="#ff1414" fill-opacity="1"/>
<circle cx="177.77" cy="95.20" r="0.5" fill="#ff1414" fill-opacity="1"/>
<circle cx="176.48" cy="95.30" r="0.5" fill="#ff1414" fill-opacity="1"/>
<circle cx="180.79" cy="91.62" r="0.5" fill="#ff1414" fill-opacity="1"/>
<circle cx="180.29" cy="91.94" r="0.5" fill="#ff1414" fill-opacity="1"/>
<circle cx="176.94" cy="95.19" r="0.5" fill="#ff1414" fill-opacity="1"/>
<circle cx="175.88" cy="97.27" r="0.5" fill="#ff1414" fill-opacity="1"/>
<circle cx="179.37" cy="93.67" r="0.5" fill="#ff1414" fill-opacity="1"/>
<circle cx="177.31" cy="95.42" r="0.5" fill="#ff1414" fill-opacity="1"/>
<circle cx="178.05" cy="95.10" r="0.5" fill="#ff1414" fill-opacity="1"/>
<circle cx="177.03" cy="96.81" r="0.5" fill="#ff1414" fill-opacity="1"/>
<circle cx="177.28" cy="95.19" r="0.5" fill="#ff1414" fill-opacity="1"/>
<circle cx="176.16" cy="98.23" r="0.5" fill="#ff1414" fill-opacity="1"/>
<circle cx="180.86" cy="92.72" r="0.5" fill="#ff1414" fill-opacity="1"/>
<circle cx="176.45" cy="97.59" r="0.5" fill="#ff1414" fill-opacity="1"/>
<circle cx="178.96" cy="93.10" r="0.5" fill="#ff1414" fill-opacity="1"/>
<circle cx="179.59" cy="92.47" r="0.5" fill="#ff1414" fill-opacity="1"/>
<circle cx="179.12" cy="91.05" r="0.5" fill="#ff1414" fill-opacity="1"/>
<circle cx="178.29" cy="96.33" r="0.5" fill="#ff1414" fill-opacity="1"/>
<circle cx="179.85" cy="91.58" r="0.5" fill="#ff1414" fill-opacity="1"/>
<circle cx="176.46" cy="97.29" r="0.5" fill="#ff1414" fill-opacity="1"/>
<circle cx="177.16" cy="95.35" r="0.5" fill="#ff1414" fill-opacity="1"/>
<circle cx="176.30" cy="96.48" r="0.5" fill="#ff1414" fill-opacity="1"/>
<circle cx="180.65" cy="93.05" r="0.5" fill="#ff1414" fill-opacity="1"/>
<circle cx="177.70" cy="97.12" r="0.5" fill="#ff1414" fill-opacity="1"/>
<circle cx="175.23" cy="96.64" r="0.5" fill="#ff1414" fill-opacity="1"/>
<circle cx="179.90" cy="92.55" r="0.5" fill="#ff1414" fill-opacity="1"/>
<circle cx="177.14" cy="93.90" r="0.5" fill="#ff1414" fill-opacity="1"/>
<circle cx="177.66" cy="95.65" r="0.5" fill="#ff1414" fill-opacity="1"/>
<circle cx="179.33" cy="92.73" r="0.5" fill="#ff1414" fill-opacity="1"/>
<circle cx="176.70" cy="94.19" r="0.5" fill="#ff1414" fill-opacity="1"/>
<circle cx="178.44" cy="96.40" r="0.5" fill="#ff1414" fill-opacity="1"/>
<circle cx="176.37" cy="96.03" r="0.5" fill="#ff1414" fill-opacity="1"/>
<circle cx="174.67" cy="96.87" r="0.5" fill="#ff1414" fill-opacity="1"/>
<circle cx="175.93" cy="96.85" r="0.5" fill="#ff1414" fill-opacity="1"/>
<circle cx="177.48" cy="94.98" r="0.5" fill="#ff1414" fill-opacity="1"/>
<circle cx="178.12" cy="93.17" r="0.5" fill="#ff1414" fill-opacity="1"/>
<circle cx="178.04" cy="91.67" r="0.5" fill="#ff1414" fill-opacity="1"/>
<circle cx="180.97" cy="92.17" r="0.5" fill="#ff1414" fill-opacity="1"/>
<circle cx="180.01" cy="92.99" r="0.5" fill="#ff1414" fill-opacity="1"/>
<circle cx="177.58" cy="97.81" r="0.5" fill="#ff1414" fill-opacity="1"/>
<circle cx="175.28" cy="97.27" r="0.5" fill="#ff1414" fill-opacity="1"/>
<circle cx="177.66" cy="97.09" r="0.5" fill="#ff1414" fill-opacity="1"/>
<circle cx="177.82" cy="96.97" r="0.5" fill="#ff1414" fill-opacity="1"/>
<circle cx="177.83" cy="97.13" r="0.5" fill="#ff1414" fill-opacity="1"/>
<circle cx="179.87" cy="92.21" r="0.5" fill="#ff1414" fill-opacity="1"/>
<circle cx="180.53" cy="93.11" r="0.5" fill="#ff1414" fill-opacity="1"/>
<circle cx="178.90" cy="93.16" r="0.5" fill="#ff1414" fill-opacity="1"/>
<circle cx="178.93" cy="95.40" r="0.5" fill="#ff1414" fill-opacity="1"/>
<circle cx="175.82" cy="97.18" r="0.5" fill="#ff1414" fill-opacity="1"/>
<circle cx="176.20" cy="95.12" r="0.5" fill="#ff1414" fill-opacity="1"/>
<circle cx="176.30" cy="97.42" r="0.5" fill="#ff1414" fill-opacity="1"/>
<circle cx="179.34" cy="95.39" r="0.5" fill="#ff1414" fill-opacity="1"/>
<circle cx="179.46" cy="92.15" r="0.5" fill="#ff1414" fill-opacity="1"/>
<circle cx="179.89" cy="93.89" r="0.5" fill="#ff1414" fill-opacity="1"/>
<circle cx="179.13" cy="96.21" r="0.5" fill="#ff1414" fill-opacity="1"/>
<circle cx="179.00" cy="94.59" r="0.5" fill="#ff1414" fill-opacity="1"/>
<circle cx="179.03" cy="93.57" r="0.5" fill="#ff1414" fill-opacity="1"/>
<circle cx="178.81" cy="96.23" r="0.5" fill="#ff1414" fill-opacity="1"/>
<circle cx="179.20" cy="95.78" r="0.5" fill="#ff1414" fill-opacity="1"/>
<circle cx="179.38" cy="93.50" r="0.5" fill="#ff1414" fill-opacity="1"/>
<circle cx="179.21" cy="92.09" r="0.5" fill="#ff1414" fill-opacity="1"/>
<circle cx="178.94" cy="95.22" r="0.5" fill="#ff1414" fill-opacity="1"/>
<circle cx="177.25" cy="95.43" r="0.5" fill="#ff1414" fill-opacity="1"/>
<circle cx="178.75" cy="91.91" r="0.5" fill="#ff1414" fill-opacity="1"/>
<circle cx="177.40" cy="96.05" r="0.5" fill="#ff1414" fill-opacity="1"/>
<circle cx="179.59" cy="94.76" r="0.5" fill="#ff1414" fill-opacity="1"/>
<circle cx="178.70" cy="92.91" r="0.5" fill="#ff1414" fill-opacity="1"/>
<circle cx="177.24" cy="96.27" r="0.5" fill="#ff1414" fill-opacity="1"/>
<circle cx="177.60" cy="92.42" r="0.5" fill="#ff1414" fill-opacity="1"/>
<circle cx="179.99" cy="92.47" r="0.5" fill="#ff1414" fill-opacity="1"/>
<circle cx="175.14" cy="96.88" r="0.5" fill="#ff1414" fill-opacity="1"/>
<circle cx="180.42" cy="91.32" r="0.5" fill="#ff1414" fill-opacity="1"/>
<circle cx="180.79" cy="92.53" r="0.5" fill="#ff1414" fill-opacity="1"/>
<circle cx="178.87" cy="93.84" r="0.5" fill="#ff1414" fill-opacity="1"/>
<circle cx="178.96" cy="94.67" r="0.5" fill="#ff1414" fill-opacity="1"/>
<circle cx="178.51" cy="93.34" r="0.5" fill="#ff1414" fill-opacity="1"/>
<circle cx="175.03" cy="98.23" r="0.5" fill="#ff1414" fill-opacity="1"/>
<circle cx="180.73" cy="92.59" r="0.5" fill="#ff1414" fill-opacity="1"/>
<circle cx="178.40" cy="95.59" r="0.5" fill="#ff1414" fill-opacity="1"/>
<circle cx="177.25" cy="94.81" r="0.5" fill="#ff1414" fill-opacity="1"/>
<circle cx="176.81" cy="95.70" r="0.5" fill="#ff1414" fill-opacity="1"/>
<circle cx="180.11" cy="94.52" r="0.5" fill="#ff1414" fill-opacity="1"/>
<circle cx="176.49" cy="95.02" r="0.5" fill="#ff1414" fill-opacity="1"/>
<circle cx="179.69" cy="91.93" r="0.5" fill="#ff1414" fill-opacity="1"/>
<circle cx="175.82" cy="95.57" r="0.5" fill="#ff1414" fill-opacity="1"/>
<circle cx="179.87" cy="93.64" r="0.5" fill="#ff1414" fill-opacity="1"/>
<circle cx="177.40" cy="95.75" r="0.5" fill="#ff1414" fill-opacity="1"/>
<circle cx="177.50" cy="94.36" r="0.5" fill="#ff1414" fill-opacity="1"/>
<circle cx="174.76" cy="97.76" r="0.5" fill="#ff1414" fill-opacity="1"/>
<circle cx="178.78" cy="90.63" r="0.5" fill="#ff1414" fill-opacity="1"/>
<circle cx="174.87" cy="97.20" r="0.5" fill="#ff1414" fill-opacity="1"/>
<circle cx="177.87" cy="93.77" r="0.5" fill="#ff1414" fill-opacity="1"/>
<circle cx="180.00" cy="92.32" r="0.5" fill="#ff1414" fill-opacity="1"/>
<circle cx="177.48" cy="93.01" r="0.5" fill="#ff1414" fill-opacity="1"/>
<circle cx="178.74" cy="92.76" r="0.5" fill="#ff1414" fill-opacity="1"/>
<circle cx="178.43" cy="96.45" r="0.5" fill="#ff1414" fill-opacity="1"/>
<circle cx="175.39" cy="97.82" r="0.5" fill="#ff1414" fill-opacity="1"/>
<circle cx="175.43" cy="97.43" r="0.5" fill="#ff1414" fill-opacity="1"/>
<circle cx="177.72" cy="97.31" r="0.5" fill="#ff1414" fill-opacity="1"/>
<circle cx="175.58" cy="97.74" r="0.5" fill="#ff1414" fill-opacity="1"/>
<circle cx="178.19" cy="95.97" r="0.5" fill="#ff1414" fill-opacity="1"/>
<circle cx="178.85" cy="92.41" r="0.5" fill="#ff1414" fill-opacity="1"/>
<circle cx="178.17" cy="94.16" r="0.5" fill="#ff1414" fill-opacity="1"/>
<circle cx="180.90" cy="92.32" r="0.5" fill="#ff1414" fill-opacity="1"/>
<circle cx="177.40" cy="95.11" r="0.5" fill="#ff1414" fill-opacity="1"/>
<circle cx="181.05" cy="90.62" r="0.5" fill="#ff1414" fill-opacity="1"/>
<circle cx="177.45" cy="95.58" r="0.5" fill="#ff1414" fill-opacity="1"/>
<circle cx="179.89" cy="92.59" r="0.5" fill="#ff1414" fill-opacity="1"/>
<circle cx="178.91" cy="95.72" r="0.5" fill="#ff1414" fill-opacity="1"/>
<circle cx="179.12" cy="93.01" r="0.5" fill="#ff1414" fill-opacity="1"/>
<circle cx="178.61" cy="93.21" r="0.5" fill="#ff1414" fill-opacity="1"/>
<circle cx="176.50" cy="96.58" r="0.5" fill="#ff1414" fill-opacity="1"/>
<circle cx="180.85" cy="93.08" r="0.5" fill="#ff1414" fill-opacity="1"/>
<circle cx="180.67" cy="91.80" r="0.5" fill="#ff1414" fill-opacity="1"/>
<circle cx="177.36" cy="93.98" r="0.5" fill="#ff1414" fill-opacity="1"/>
<circle cx="180.07" cy="91.96" r="0.5" fill="#ff1414" fill-opacity="1"/>
<circle cx="175.63" cy="96.06" r="0.5" fill="#ff1414" fill-opacity="1"/>
<circle cx="178.26" cy="92.27" r="0.5" fill="#ff1414" fill-opacity="1"/>
<circle cx="179.11" cy="91.30" r="0.5" fill="#ff1414" fill-opacity="1"/>
<circle cx="178.59" cy="94.02" r="0.5" fill="#ff1414" fill-opacity="1"/>
<circle cx="177.66" cy="96.35" r="0.5" fill="#ff1414" fill-opacity="1"/>
<circle cx="176.14" cy="94.90" r="0.5" fill="#ff1414" fill-opacity="1"/>
<circle cx="178.24" cy="92.72" r="0.5" fill="#ff1414" fill-opacity="1"/>
<circle cx="181.29" cy="91.72" r="0.5" fill="#ff1414" fill-opacity="1"/>
<circle cx="178.05" cy="95.62" r="0.5" fill="#ff1414" fill-opacity="1"/>
<circle cx="175.34" cy="96.86" r="0.5" fill="#ff1414" fill-opacity="1"/>
<circle cx="177.44" cy="96.16" r="0.5" fill="#ff1414" fill-opacity="1"/>
<circle cx="176.64" cy="95.51" r="0.5" fill="#ff1414" fill-opacity="1"/>
<circle cx="179.99" cy="91.40" r="0.5" fill="#ff1414" fill-opacity="1"/>
<circle cx="180.28" cy="88.60" r="0.45" fill="#ff1414" fill-opacity="0.9"/>
<circle cx="182.55" cy="86.53" r="0.45" fill="#ff1414" fill-opacity="0.9"/>
<circle cx="181.19" cy="84.81" r="0.45" fill="#ff1414" fill-opacity="0.9"/>
<circle cx="183.46" cy="83.78" r="0.45" fill="#ff1414" fill-opacity="0.9"/>
<circle cx="183.91" cy="89.63" r="0.45" fill="#ff1414" fill-opacity="0.9"/>
<circle cx="185.28" cy="93.41" r="0.45" fill="#ff1414" fill-opacity="0.9"/>
<circle cx="186.18" cy="96.16" r="0.45" fill="#ff1414" fill-opacity="0.9"/>
<circle cx="190.72" cy="85.16" r="0.45" fill="#ff1414" fill-opacity="0.9"/>
<circle cx="178.92" cy="90.32" r="0.45" fill="#ff1414" fill-opacity="0.9"/>
<circle cx="179.37" cy="88.94" r="0.45" fill="#ff1414" fill-opacity="0.9"/>
<circle cx="181.64" cy="91.00" r="0.45" fill="#ff1414" fill-opacity="0.9"/>
<circle cx="183.01" cy="92.72" r="0.45" fill="#ff1414" fill-opacity="0.9"/>
<circle cx="184.37" cy="87.56" r="0.45" fill="#ff1414" fill-opacity="0.9"/>
<circle cx="178.01" cy="91.35" r="0.45" fill="#ff1414" fill-opacity="0.9"/>
<circle cx="180.74" cy="95.13" r="0.45" fill="#ff1414" fill-opacity="0.9"/>
<circle cx="118.54" cy="26.10" r="0.5" fill="#1e8fff" fill-opacity="0.9"/>
<circle cx="139.06" cy="63.48" r="0.5" fill="#1e8fff" fill-opacity="0.9"/>
<circle cx="138.33" cy="71.05" r="0.5" fill="#1e8fff" fill-opacity="0.9"/>
<circle cx="135.06" cy="78.79" r="0.5" fill="#1e8fff" fill-opacity="0.9"/>
<circle cx="136.24" cy="78.62" r="0.5" fill="#1e8fff" fill-opacity="0.9"/>
<circle cx="144.42" cy="77.42" r="0.5" fill="#1e8fff" fill-opacity="0.9"/>
<circle cx="150.77" cy="76.56" r="0.5" fill="#1e8fff" fill-opacity="0.9"/>
<circle cx="135.79" cy="85.50" r="0.5" fill="#1e8fff" fill-opacity="0.9"/>
<circle cx="140.78" cy="92.38" r="0.5" fill="#1e8fff" fill-opacity="0.9"/>
<circle cx="193.45" cy="60.39" r="0.5" fill="#ff1414" fill-opacity="0.9"/>
<circle cx="196.17" cy="62.11" r="0.5" fill="#ff1414" fill-opacity="0.9"/>
<circle cx="227.04" cy="76.90" r="0.5" fill="#ff1414" fill-opacity="0.9"/>
<path d="M155.5 92.2L156.5 93L160 96.1L163 100.2L165 102.5L163.6 102.4L156.4 98.9Z" fill="#000"/>
<g stroke="#111" stroke-width="1" fill="none">
<path d="M111.8 20.1H237.7V102.7"/>
<path d="M111.3 102.7H238.2" stroke-width="1.3"/>
<path d="M111.8 19.6V34.8M110.0 34.8H113.8"/>
<path d="M111.8 42.7V102.7M110.0 42.7H113.8"/>
<path d="M108.8 20.1H111.8" stroke-width="0.8"/>
<path d="M108.8 26.1H111.8" stroke-width="0.8"/>
<path d="M108.8 51.1H111.8" stroke-width="0.8"/>
<path d="M108.8 68.3H111.8" stroke-width="0.8"/>
<path d="M108.8 85.5H111.8" stroke-width="0.8"/>
<path d="M108.8 102.7H111.8" stroke-width="0.8"/>
<path d="M129.0 102.7V105.7" stroke-width="0.8"/>
<path d="M165.3 102.7V105.7" stroke-width="0.8"/>
<path d="M201.6 102.7V105.7" stroke-width="0.8"/>
<path d="M237.9 102.7V105.7" stroke-width="0.8"/>
</g>
<g font-size="6" font-weight="bold" text-anchor="end">
<text x="108.4" y="22.1">40</text>
<text x="108.4" y="28.1">30</text>
<text x="108.4" y="36.8">20</text>
<text x="108.4" y="53.1">15</text>
<text x="108.4" y="70.3">10</text>
<text x="108.4" y="87.5">5</text>
<text x="108.4" y="104.7">0</text>
</g>
<g font-size="6" font-weight="bold" text-anchor="middle">
<text x="128.8" y="111.6">-4</text>
<text x="165.3" y="111.6">0</text>
<text x="201.6" y="111.6">4</text>
<text x="237.9" y="111.6">8</text>
</g>
<text x="174.8" y="121.6" font-size="6.8" font-weight="bold" text-anchor="middle">log<tspan font-size="4.6" dy="1.3">2</tspan><tspan dy="-1.3">FC</tspan></text>
<text transform="translate(98.2 62) rotate(-90)" font-size="6.8" font-weight="bold" text-anchor="middle">-log<tspan font-size="4.6" dy="1.3">10</tspan><tspan dy="-1.3">PValue</tspan></text>
</g>
<g id="go">
<g stroke="#f3f3f3" stroke-width="0.6">
<line x1="183.0" y1="152.8" x2="183.0" y2="343.0"/>
<line x1="195.9" y1="152.8" x2="195.9" y2="343.0"/>
<line x1="208.7" y1="152.8" x2="208.7" y2="343.0"/>
<line x1="221.6" y1="152.8" x2="221.6" y2="343.0"/>
<line x1="234.4" y1="152.8" x2="234.4" y2="343.0"/>
<line x1="247.3" y1="152.8" x2="247.3" y2="343.0"/>
<line x1="260.1" y1="152.8" x2="260.1" y2="343.0"/>
<line x1="273.0" y1="152.8" x2="273.0" y2="343.0"/>
</g>
<rect x="170.2" y="155.90" width="77.1" height="5" fill="#fb4a5e"/>
<rect x="170.2" y="167.09" width="77.1" height="5" fill="#fb4a5e"/>
<rect x="170.2" y="178.28" width="38.5" height="5" fill="#fb4a5e"/>
<rect x="170.2" y="189.47" width="38.5" height="5" fill="#fb4a5e"/>
<rect x="170.2" y="200.66" width="38.5" height="5" fill="#fb4a5e"/>
<rect x="170.2" y="211.84" width="25.7" height="5" fill="#fb4a5e"/>
<rect x="170.2" y="223.04" width="25.7" height="5" fill="#fb4a5e"/>
<rect x="170.2" y="234.23" width="102.8" height="5" fill="#0fba5c"/>
<rect x="170.2" y="245.42" width="89.9" height="5" fill="#0fba5c"/>
<rect x="170.2" y="256.61" width="89.9" height="5" fill="#0fba5c"/>
<rect x="170.2" y="267.80" width="77.1" height="5" fill="#0fba5c"/>
<rect x="170.2" y="278.99" width="51.4" height="5" fill="#0fba5c"/>
<rect x="170.2" y="290.18" width="38.5" height="5" fill="#0fba5c"/>
<rect x="170.2" y="301.37" width="25.7" height="5" fill="#0fba5c"/>
<rect x="170.2" y="312.56" width="25.7" height="5" fill="#0fba5c"/>
<rect x="170.2" y="323.75" width="25.7" height="5" fill="#0fba5c"/>
<rect x="170.2" y="334.94" width="51.4" height="5" fill="#2594d6"/>
<rect x="170.2" y="152.8" width="115.6" height="190.2" fill="none" stroke="#a4a4a4" stroke-width="0.9"/>
<g font-size="7" text-anchor="end">
<text x="162.7" y="160.6">nitrate assimilation</text>
<text x="162.7" y="171.8">protein-chromophore linkage</text>
<text x="162.7" y="183.0">protein refolding</text>
<text x="162.7" y="194.2">response to oxidative stress</text>
<text x="162.7" y="205.4">cysteine biosynthetic process from serine</text>
<text x="162.7" y="216.5">respiratory electron transport chain</text>
<text x="162.7" y="227.7">ribosomal small subunit biogenesis</text>
<text x="162.7" y="238.9">GTP binding</text>
<text x="162.7" y="250.1">iron ion binding</text>
<text x="162.7" y="261.3">electron transfer activity</text>
<text x="162.7" y="272.5">heme binding</text>
<text x="162.7" y="283.7">chlorophyll binding</text>
<text x="162.7" y="294.9">nitrate transmembrane transporter activity</text>
<text x="162.7" y="306.1">acireductone dioxygenase [iron(II)-requiring] activity</text>
<text x="162.7" y="317.3">peptide-methionine (R)-S-oxide reductase activity</text>
<text x="162.7" y="328.4">cysteine synthase activity</text>
<text x="162.7" y="339.6">photosystem I</text>
</g>
<g font-size="7.4" text-anchor="middle">
<text x="170.2" y="352.5">0</text>
<text x="183.0" y="352.5">1</text>
<text x="195.9" y="352.5">2</text>
<text x="208.7" y="352.5">3</text>
<text x="221.6" y="352.5">4</text>
<text x="234.4" y="352.5">5</text>
<text x="247.3" y="352.5">6</text>
<text x="260.1" y="352.5">7</text>
<text x="273.0" y="352.5">8</text>
<text x="285.8" y="352.5">9</text>
<text x="228.5" y="361">Count</text>
</g>
<rect x="298.5" y="157.1" width="3" height="3" fill="#fb4a5e"/>
<text x="303.3" y="160.4" font-size="7">Biological Process</text>
<rect x="298.5" y="177.0" width="3" height="3" fill="#0fba5c"/>
<text x="303.3" y="180.3" font-size="7">Cellular Component</text>
<rect x="298.5" y="196.2" width="3" height="3" fill="#2594d6"/>
<text x="303.3" y="199.9" font-size="7">Molecular Function</text>
</g>
<g id="kegg">
<g stroke="#f3f3f3" stroke-width="0.6">
<line x1="193.3" y1="391.3" x2="193.3" y2="518.5"/>
<line x1="216.4" y1="391.3" x2="216.4" y2="518.5"/>
<line x1="239.4" y1="391.3" x2="239.4" y2="518.5"/>
<line x1="262.5" y1="391.3" x2="262.5" y2="518.5"/>
</g>
<rect x="170.2" y="395.26" width="92.3" height="6.2" fill="#686868"/>
<rect x="170.2" y="409.39" width="76.9" height="6.2" fill="#7d7d7d"/>
<rect x="170.2" y="423.52" width="61.5" height="6.2" fill="#8c8c8c"/>
<rect x="170.2" y="437.65" width="46.2" height="6.2" fill="#9a9a9a"/>
<rect x="170.2" y="451.78" width="38.5" height="6.2" fill="#a8a8a8"/>
<rect x="170.2" y="465.91" width="30.8" height="6.2" fill="#b8b8b8"/>
<rect x="170.2" y="480.04" width="30.8" height="6.2" fill="#c8c8c8"/>
<rect x="170.2" y="494.18" width="15.4" height="6.2" fill="#d4d4d4"/>
<rect x="170.2" y="508.31" width="15.4" height="6.2" fill="#dcdcdc"/>
<rect x="170.2" y="391.3" width="115.4" height="127.2" fill="none" stroke="#a4a4a4" stroke-width="0.9"/>
<g font-size="6.7" text-anchor="end">
<text x="163" y="400.5">ABC transporters</text>
<text x="163" y="414.6">Nitrogen metabolism</text>
<text x="163" y="428.7">Cysteine and methionine metabolism</text>
<text x="163" y="442.9">Sulfur metabolism</text>
<text x="163" y="457.0">Photosynthesis - antenna proteins</text>
<text x="163" y="471.1">Cyanoamino acid metabolism</text>
<text x="163" y="485.2">Sulfur relay system</text>
<text x="163" y="499.4">Aminobenzoate degradation</text>
<text x="163" y="513.5">Nitrotoluene degradation</text>
</g>
<g font-size="7.1" text-anchor="middle">
<text x="170.2" y="528.6">0</text>
<text x="193.3" y="528.6">3</text>
<text x="216.4" y="528.6">6</text>
<text x="239.4" y="528.6">9</text>
<text x="262.5" y="528.6">12</text>
<text x="285.6" y="528.6">15</text>
<text x="228" y="540.2">Count</text>
</g>
</g>
</svg></body></html>
